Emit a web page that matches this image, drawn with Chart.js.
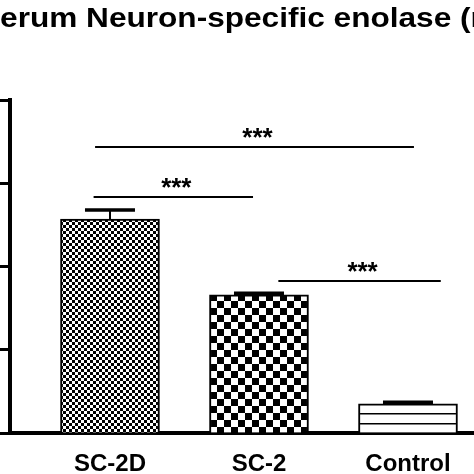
<!DOCTYPE html>
<html>

<head>
    <title>Serum NSE</title>
    <script src="https://cdn.jsdelivr.net/npm/chart.js@4.4.0/dist/chart.umd.min.js"></script>
    <style>
        body { margin: 0; background: #fff; }
    </style>
</head>

<body>
    <canvas id="myChart" width="474" height="474"></canvas>
    <script>
        // data
        var titleText = 'Serum Neuron-specific enolase (ng/mL)';
        var categories = ['SC-2D', 'SC-2', 'Control'];
        var means = [25.7, 16.6, 3.5];
        var errors = [1.1, 0.2, 0.2];
        var yTicks = [0, 10, 20, 30, 40];
        // significance lines: [from x, to x, y] in data units
        var sigFrom = [0.9, 0.89, 2.13];
        var sigTo = [3.04, 1.96, 3.22];
        var sigY = [34.35, 28.35, 18.26];
        var sigText = ['***', '***', '***'];

        var FONT = '"Liberation Sans", Arial, sans-serif';

        function makePattern(kind) {
            var c = document.createElement('canvas');
            var x = c.getContext('2d');
            if (kind == 'fine') {
                c.width = 6; c.height = 6;
                x.fillStyle = '#fff'; x.fillRect(0, 0, 6, 6);
                x.fillStyle = '#000'; x.fillRect(0, 0, 3, 3); x.fillRect(3, 3, 3, 3);
            } else if (kind == 'coarse') {
                c.width = 14; c.height = 14;
                x.fillStyle = '#fff'; x.fillRect(0, 0, 14, 14);
                x.fillStyle = '#000'; x.fillRect(0, 0, 7, 7); x.fillRect(7, 7, 7, 7);
            } else {
                c.width = 10; c.height = 10;
                x.fillStyle = '#fff'; x.fillRect(0, 0, 10, 10);
                x.fillStyle = '#000'; x.fillRect(0, 3, 10, 1.5);
            }
            return x.createPattern(c, 'repeat');
        }

        var titlePlugin = {
            id: 'cutTitle',
            afterDraw: function (chart) {
                var ctx = chart.ctx;
                ctx.save();
                ctx.font = 'bold 27px ' + FONT;
                ctx.fillStyle = '#000';
                ctx.textBaseline = 'alphabetic';
                ctx.scale(1.17, 1);
                ctx.fillText(titleText, -21 / 1.17, 27);
                ctx.restore();
            }
        };

        var errorPlugin = {
            id: 'errBars',
            afterDatasetsDraw: function (chart) {
                var ctx = chart.ctx;
                var xs = chart.scales.x, ys = chart.scales.y;
                ctx.save();
                ctx.strokeStyle = '#000';
                for (var i = 0; i < means.length; i++) {
                    var px = xs.getPixelForValue(i + 1);
                    var top = ys.getPixelForValue(means[i] + errors[i]);
                    var bar = ys.getPixelForValue(means[i]);
                    ctx.lineWidth = 2;
                    ctx.beginPath(); ctx.moveTo(px, bar); ctx.lineTo(px, top); ctx.stroke();
                    ctx.lineWidth = 3.5;
                    ctx.beginPath(); ctx.moveTo(px - 25, top); ctx.lineTo(px + 25, top); ctx.stroke();
                }
                // significance lines
                ctx.lineWidth = 2;
                ctx.fillStyle = '#000';
                ctx.font = 'bold 26px ' + FONT;
                ctx.textAlign = 'center';
                ctx.textBaseline = 'alphabetic';
                for (var j = 0; j < sigY.length; j++) {
                    var x1 = xs.getPixelForValue(sigFrom[j]);
                    var x2 = xs.getPixelForValue(sigTo[j]);
                    var y = ys.getPixelForValue(sigY[j]);
                    ctx.beginPath(); ctx.moveTo(x1, y); ctx.lineTo(x2, y); ctx.stroke();
                    ctx.fillText(sigText[j], (x1 + x2) / 2 + 3, y - 1);
                }
                ctx.restore();
            }
        };

        var ctx = document.getElementById('myChart').getContext('2d');
        var chart = new Chart(ctx, {
            type: 'bar',
            data: {
                datasets: [{
                    data: means.map(function (m, i) { return { x: i + 1, y: m }; }),
                    backgroundColor: [makePattern('fine'), makePattern('coarse'), makePattern('lines')],
                    borderColor: '#000',
                    borderWidth: 2,
                    borderSkipped: 'bottom',
                    barThickness: 99
                }]
            },
            options: {
                responsive: false,
                animation: false,
                layout: { padding: { top: 100, left: 0, right: 0, bottom: -21 } },
                plugins: { legend: { display: false }, tooltip: { enabled: false } },
                scales: {
                    x: {
                        type: 'linear',
                        min: 0.329,
                        max: 3.443,
                        bounds: 'data',
                        offset: false,
                        afterBuildTicks: function (scale) {
                            scale.ticks = categories.map(function (c, i) { return { value: i + 1 }; });
                        },
                        ticks: {
                            callback: function (v) { return categories[v - 1]; },
                            color: '#000',
                            font: { family: FONT, size: 24, weight: 'bold', lineHeight: 1 },
                            padding: 19,
                            maxRotation: 0,
                            autoSkip: false
                        },
                        grid: { display: false, drawTicks: false, offset: false },
                        border: { display: true, color: '#000', width: 4 }
                    },
                    y: {
                        min: yTicks[0],
                        max: yTicks[yTicks.length - 1],
                        afterBuildTicks: function (scale) {
                            scale.ticks = yTicks.map(function (v) { return { value: v }; });
                        },
                        ticks: { display: false },
                        grid: { drawOnChartArea: false, drawTicks: true, tickLength: 10, tickWidth: 3, tickColor: '#000' },
                        border: { display: true, color: '#000', width: 4 }
                    }
                }
            },
            plugins: [titlePlugin, errorPlugin]
        });
    </script>
</body>

</html>
